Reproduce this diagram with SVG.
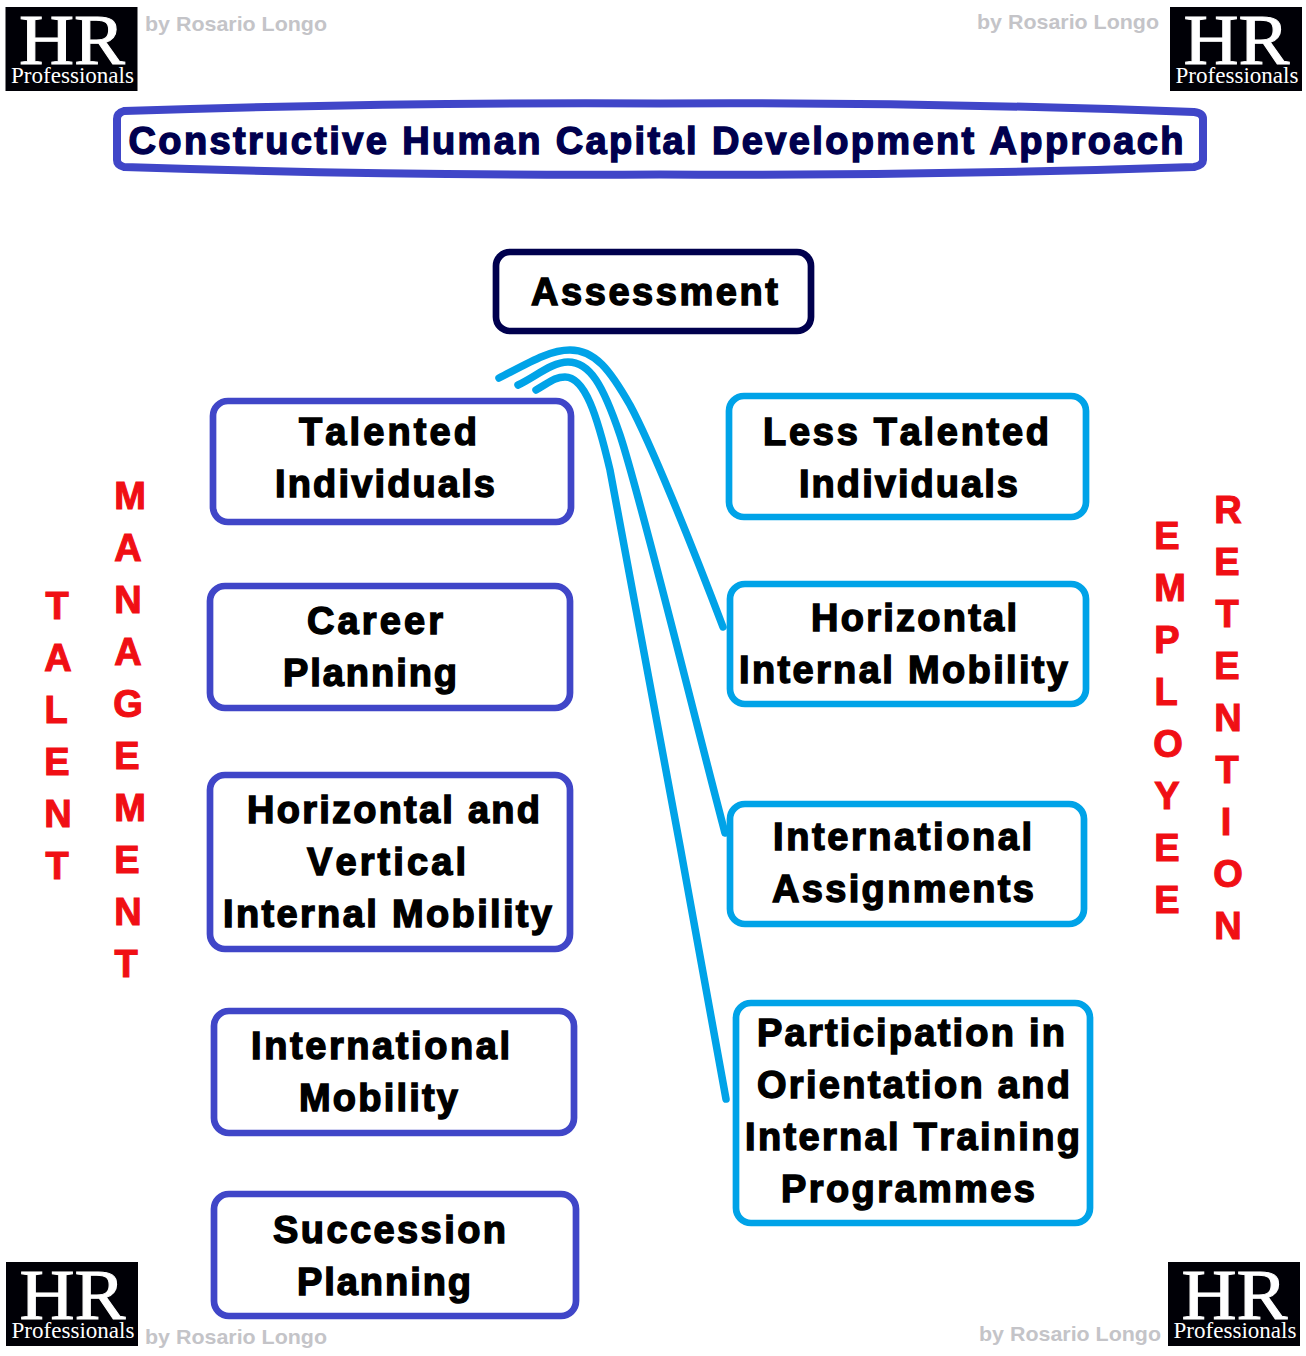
<svg xmlns="http://www.w3.org/2000/svg" width="1306" height="1356" viewBox="0 0 1306 1356">
<style>
text{font-family:"Liberation Sans",Arial,sans-serif;font-weight:bold;font-kerning:none}
.t{font-size:38px;fill:#000;stroke:#000;stroke-width:1.4;text-anchor:middle}
.r{font-size:38px;fill:#f00f14;stroke:#f00f14;stroke-width:1.1;text-anchor:middle}
.w{font-size:21px;fill:#c4c4c8}
.a{fill:#fff;stroke:#4046c8;stroke-width:6.7}
.b{fill:#fff;stroke:#00a3e8;stroke-width:6.7}
.c{fill:none;stroke:#00a3e8;stroke-width:7.5;stroke-linecap:round}
.k{fill:#000006}
.h{font-family:"Liberation Serif",serif;font-weight:normal;fill:#fff;text-anchor:middle}
</style>
<defs>
<g id="logo">
<rect width="132" height="84" class="k"/>
<text x="66.500" y="57" class="h" font-size="72" stroke="#fff" stroke-width="1" textLength="106" lengthAdjust="spacingAndGlyphs">HR</text>
<text x="67" y="75.500" class="h" font-size="24" textLength="123" lengthAdjust="spacingAndGlyphs">Professionals</text>
</g>
</defs>
<g id="logos">
<use href="#logo" x="5.500" y="7"/>
<use href="#logo" x="1170" y="7"/>
<use href="#logo" x="6" y="1262"/>
<use href="#logo" x="1168" y="1262"/>
</g>
<g id="bylines">
<text class="w" x="145" y="31" textLength="182" lengthAdjust="spacingAndGlyphs">by Rosario Longo</text>
<text class="w" x="977" y="29" textLength="182" lengthAdjust="spacingAndGlyphs">by Rosario Longo</text>
<text class="w" x="145" y="1344" textLength="182" lengthAdjust="spacingAndGlyphs">by Rosario Longo</text>
<text class="w" x="979" y="1341" textLength="182" lengthAdjust="spacingAndGlyphs">by Rosario Longo</text>
</g>
<g id="title">
<path d="M124 111Q400 102 660 103.500Q930 102 1194 112Q1203 113 1203 119V160Q1203 165 1194 167Q930 176 660 174.500Q400 176 124 167Q117 165 117 160V119Q117 113 124 111Z" fill="#fff" stroke="#4046c8" stroke-width="8"/>
<text x="656" y="154" font-size="38" fill="#00004e" stroke="#00004e" stroke-width="1.400" text-anchor="middle" textLength="1055">Constructive Human Capital Development Approach</text>
</g>
<g id="assessment">
<rect x="496" y="252" width="315" height="79" rx="14" fill="#fff" stroke="#00004e" stroke-width="6.700"/>
<text class="t" x="654.500" y="305" textLength="247">Assessment</text>
</g>
<g id="connectors">
<path class="c" d="M499 378C530 362 550 350 570 350C595 350 610 370 630 405C650 442 690 540 723 627"/>
<path class="c" d="M518 385C535 377 552 362 568 362C590 362 603 385 620 435C640 495 690 700 725 833"/>
<path class="c" d="M536 390C550 382 555 377 565 377C585 377 597 415 610 470C630 570 690 900 726 1099"/>
</g>
<g id="n1"><rect class="a" x="213" y="401" width="358" height="121" rx="15"/><text class="t" x="388" y="445" textLength="178">Talented</text><text class="t" x="385" y="497" textLength="220">Individuals</text></g>
<g id="n2"><rect class="a" x="210" y="586" width="360" height="122" rx="15"/><text class="t" x="375" y="634" textLength="136">Career</text><text class="t" x="370" y="686" textLength="174">Planning</text></g>
<g id="n3"><rect class="a" x="210" y="775" width="360" height="174" rx="15"/><text class="t" x="393.500" y="823" textLength="293">Horizontal and</text><text class="t" x="386.500" y="875" textLength="159">Vertical</text><text class="t" x="387.500" y="927" textLength="329">Internal Mobility</text></g>
<g id="n4"><rect class="a" x="214" y="1011" width="360" height="122" rx="15"/><text class="t" x="380.500" y="1059" textLength="259">International</text><text class="t" x="378.500" y="1111" textLength="159">Mobility</text></g>
<g id="n5"><rect class="a" x="214" y="1194" width="362" height="122" rx="15"/><text class="t" x="389.500" y="1243" textLength="233">Succession</text><text class="t" x="384" y="1295" textLength="174">Planning</text></g>
<g id="n6"><rect class="b" x="729" y="396" width="357" height="121" rx="15"/><text class="t" x="906" y="445" textLength="286">Less Talented</text><text class="t" x="908.500" y="497" textLength="219">Individuals</text></g>
<g id="n7"><rect class="b" x="730" y="584" width="356" height="120" rx="15"/><text class="t" x="914" y="631" textLength="206">Horizontal</text><text class="t" x="903.500" y="683" textLength="329">Internal Mobility</text></g>
<g id="n8"><rect class="b" x="730" y="804" width="354" height="120" rx="15"/><text class="t" x="902.500" y="850" textLength="259">International</text><text class="t" x="903" y="902" textLength="262">Assignments</text></g>
<g id="n9"><rect class="b" x="736" y="1003" width="354" height="220" rx="15"/><text class="t" x="911" y="1046" textLength="308">Participation in</text><text class="t" x="913.500" y="1098" textLength="313">Orientation and</text><text class="t" x="912.500" y="1150" textLength="335">Internal Training</text><text class="t" x="908" y="1202" textLength="254">Programmes</text></g>
<g id="talent">
<text class="r" x="57" y="619">T</text><text class="r" x="58" y="671">A</text><text class="r" x="56" y="723">L</text><text class="r" x="57" y="775">E</text><text class="r" x="58" y="827">N</text><text class="r" x="57" y="879">T</text>
</g>
<g id="management">
<text class="r" x="130" y="509">M</text><text class="r" x="128" y="561">A</text><text class="r" x="128" y="613">N</text><text class="r" x="128" y="665">A</text><text class="r" x="128" y="717">G</text><text class="r" x="127" y="769">E</text><text class="r" x="130" y="821">M</text><text class="r" x="127" y="873">E</text><text class="r" x="128" y="925">N</text><text class="r" x="126" y="977">T</text>
</g>
<g id="employee">
<text class="r" x="1167" y="549">E</text><text class="r" x="1170" y="601">M</text><text class="r" x="1167" y="653">P</text><text class="r" x="1166" y="705">L</text><text class="r" x="1168" y="757">O</text><text class="r" x="1167" y="809">Y</text><text class="r" x="1167" y="861">E</text><text class="r" x="1167" y="913">E</text>
</g>
<g id="retention">
<text class="r" x="1228" y="523">R</text><text class="r" x="1227" y="575">E</text><text class="r" x="1227" y="627">T</text><text class="r" x="1227" y="679">E</text><text class="r" x="1228" y="731">N</text><text class="r" x="1227" y="783">T</text><text class="r" x="1226" y="835">I</text><text class="r" x="1228" y="887">O</text><text class="r" x="1228" y="939">N</text>
</g>
</svg>
